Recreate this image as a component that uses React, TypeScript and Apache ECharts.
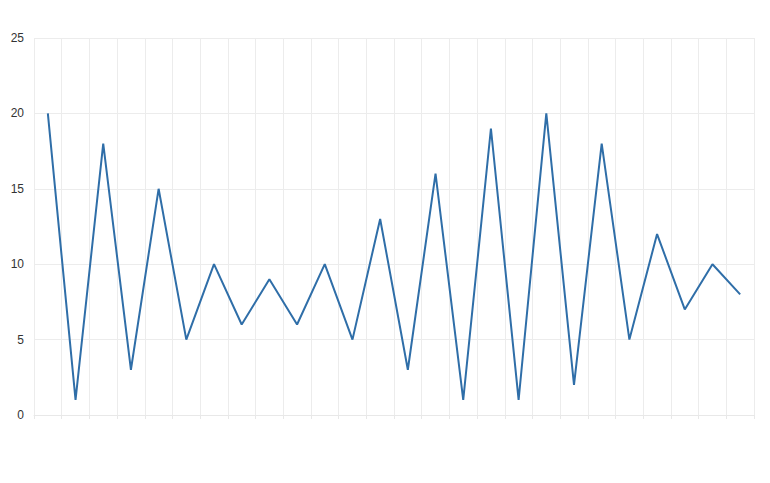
import { useEffect, useRef } from 'react';
import * as echarts from 'echarts';

const categories = [
  '1', '2', '3', '4', '5', '6', '7', '8', '9', '10', '11', '12', '13',
  '14', '15', '16', '17', '18', '19', '20', '21', '22', '23', '24', '25', '26',
];
const values = [
  20, 1, 18, 3, 15, 5, 10, 6, 9, 6, 10, 5, 13,
  3, 16, 1, 19, 1, 20, 2, 18, 5, 12, 7, 10, 8,
];

export default function App() {
  const chartRef = useRef<HTMLDivElement>(null);

  useEffect(() => {
    if (!chartRef.current) return;
    const chart = echarts.init(chartRef.current, null, { renderer: 'svg' });

    chart.setOption({
      animation: false,
      grid: { left: 34, right: 16, top: 38, bottom: 68 },
      xAxis: {
        type: 'category',
        data: categories,
        boundaryGap: true,
        axisLine: { lineStyle: { color: '#e8e8e8' } },
        axisTick: { show: true, length: 4, lineStyle: { color: '#e8e8e8' } },
        axisLabel: { show: false },
        splitLine: { show: true, lineStyle: { color: '#ececec' } },
      },
      yAxis: {
        type: 'value',
        min: 0,
        max: 25,
        interval: 5,
        axisLine: { show: false },
        axisTick: { show: false },
        axisLabel: {
          color: '#333333',
          fontSize: 12,
          margin: 10,
          fontFamily: 'Liberation Sans, Arial, sans-serif',
        },
        splitLine: { lineStyle: { color: '#ececec' } },
      },
      series: [
        {
          type: 'line',
          data: values,
          symbol: 'none',
          lineStyle: { color: '#2f6ea8', width: 2 },
          itemStyle: { color: '#2f6ea8' },
        },
      ],
    });

    return () => {
      chart.dispose();
    };
  }, []);

  return <div ref={chartRef} style={{ width: 770, height: 483, margin: -8 }} />;
}
